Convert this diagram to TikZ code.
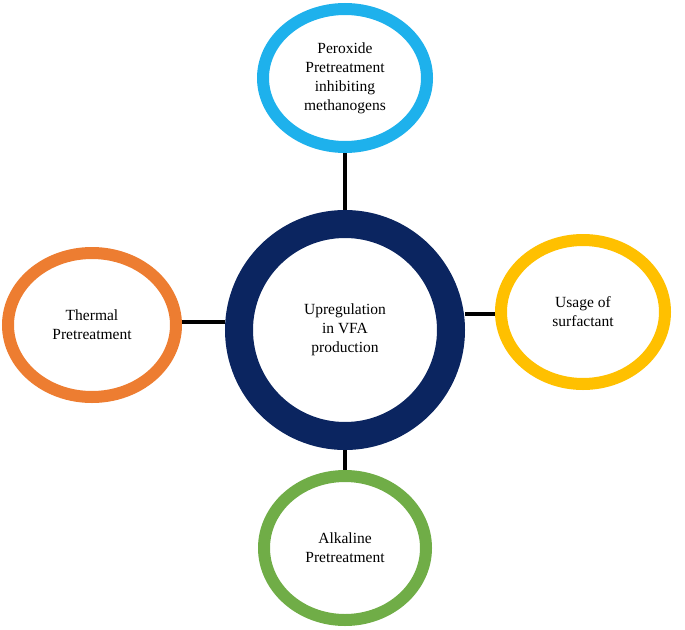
\documentclass[tikz,border=0pt]{standalone}
\usepackage{fontspec}
\setmainfont{Liberation Serif}
\usetikzlibrary{shapes.geometric,backgrounds}
\definecolor{navy}{HTML}{0B2560}
\definecolor{sky}{HTML}{1EB1EC}
\definecolor{orng}{HTML}{ED7D31}
\definecolor{ylw}{HTML}{FFC000}
\definecolor{grn}{HTML}{70AD47}
\begin{document}
\begin{tikzpicture}[x=1pt,y=-1pt,
  ring/.style={ellipse,draw,line width=12pt,inner sep=0pt,align=center,font=\fontsize{15.5}{19}\selectfont},
  conn/.style={line width=4pt,black}]
\useasboundingbox (0,0) rectangle (685,629);
\node[ring,draw=navy,line width=28pt,minimum width=212pt,minimum height=212pt] (c) at (345,330) {Upregulation\\in VFA\\production};
\node[ring,draw=sky,minimum width=164pt,minimum height=138pt] (t) at (345,78) {Peroxide\\Pretreatment\\inhibiting\\methanogens};
\node[ring,draw=orng,minimum width=168pt,minimum height=144pt] (l) at (92,325) {Thermal\\Pretreatment};
\node[ring,draw=ylw,minimum width=164pt,minimum height=144pt] (r) at (583,312) {Usage of\\surfactant};
\node[ring,draw=grn,minimum width=162pt,minimum height=144pt] (b) at (345,548) {Alkaline\\Pretreatment};
\begin{pgfonlayer}{background}
\draw[conn] (t.south) -- (c.north);
\draw[conn] (b.north) -- (c.south);
\draw[conn] (l.east |- 0,322) -- (c.west |- 0,322);
\draw[conn] (r.west |- 0,314) -- (c.east |- 0,314);
\end{pgfonlayer}
\end{tikzpicture}
\end{document}
